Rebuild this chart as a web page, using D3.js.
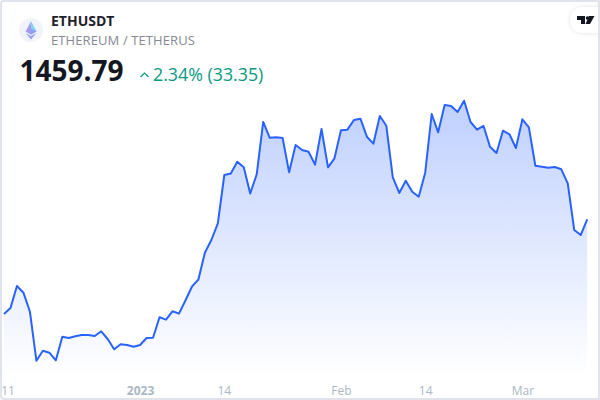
<!DOCTYPE html>
<html><head><meta charset="utf-8">
<script src="https://cdnjs.cloudflare.com/ajax/libs/d3/7.8.5/d3.min.js"></script>
<style>html,body{margin:0;padding:0;background:#fff}svg{display:block;font-family:"Open Sans",sans-serif}</style>
</head><body><svg id="c" width="600" height="400"></svg>
<script>
const startDate = "2022-12-11";
const closes = [1259.0,1271.8,1318.4,1304.2,1263.9,1160.0,1181.2,1177.0,1160.9,1210.9,
1208.2,1211.8,1214.5,1214.5,1212.4,1222.4,1206.0,1184.2,1194.8,1193.3,
1189.7,1193.3,1208.2,1208.8,1252.0,1247.0,1264.8,1259.7,1287.7,1316.9,
1332.2,1389.0,1415.9,1451.3,1553.7,1556.9,1581.7,1570.0,1514.5,1555.2,
1666.1,1632.8,1633.6,1632.2,1559.4,1617.3,1606.7,1603.1,1575.6,1651.2,
1570.0,1589.1,1648.5,1649.8,1670.3,1673.1,1634.9,1620.1,1678.8,1658.2,
1548.8,1515.6,1541.6,1518.3,1507.7,1558.6,1683.0,1644.2,1702.1,1700.0,
1687.3,1711.2,1666.1,1649.8,1657.6,1613.7,1600.4,1647.6,1640.0,1611.0,
1671.8,1654.8,1573.4,1571.3,1569.2,1570.7,1565.8,1536.1,1437.1,1426.44,1459.79];
const tickDates = ["2022-12-11","2023-01-01","2023-01-14","2023-02-01","2023-02-14","2023-03-01"];
const tickLabels = ["11","2023","14","Feb","14","Mar"];
const symbol = "ETHUSDT";
const symbolName = "ETHEREUM / TETHERUS";
const lastPrice = "1459.79";
const changeText = "2.34% (33.35)";

const parse = d3.utcParse("%Y-%m-%d");
const t0 = parse(startDate);
const dates = closes.map((_, i) => d3.utcDay.offset(t0, i));
const svg = d3.select("#c");
const x = d3.scaleUtc().domain([t0, dates[dates.length-1]]).range([4, 587.2]);
const y = d3.scaleLinear().domain([1459.79-150*2.12, 1459.79+119.3*2.12]).range([369.3, 100]);

const defs = svg.append("defs");
const g = defs.append("linearGradient").attr("id","fill").attr("gradientUnits","userSpaceOnUse")
  .attr("x1",0).attr("x2",0).attr("y1",100).attr("y2",376);
g.append("stop").attr("offset",0).attr("stop-color","#2962ff").attr("stop-opacity",0.3);
g.append("stop").attr("offset",1).attr("stop-color","#2962ff").attr("stop-opacity",0);
const sh = defs.append("filter").attr("id","sh").attr("x","-30%").attr("y","-30%").attr("width","160%").attr("height","160%");
sh.append("feDropShadow").attr("dx",0).attr("dy",0).attr("stdDeviation",2).attr("flood-color","#000").attr("flood-opacity",0.12);
const lg = defs.append("linearGradient").attr("id","eth").attr("x1",0).attr("x2",1).attr("y1",0).attr("y2",1);
lg.append("stop").attr("offset",0).attr("stop-color","#c09cf2");
lg.append("stop").attr("offset",1).attr("stop-color","#7f9cf5");

const idx = closes.map((_, i) => i);
const area = d3.area().x(i => x(dates[i])).y0(376).y1(i => y(closes[i]));
const line = d3.line().x(i => x(dates[i])).y(i => y(closes[i]));
svg.append("path").attr("d",area(idx)).attr("fill","url(#fill)");
svg.append("path").attr("d",line(idx)).attr("fill","none").attr("stroke","#2962ff").attr("stroke-width",2).attr("stroke-linejoin","round");

// card border
svg.append("rect").attr("x",1).attr("y",1).attr("width",598).attr("height",398).attr("rx",3)
  .attr("fill","none").attr("stroke","#e0e3eb").attr("stroke-width",2);

// time axis
const ax = d3.axisBottom(x).tickValues(tickDates.map(parse)).tickSize(0).tickPadding(0)
  .tickFormat((d,i) => tickLabels[i]);
const axG = svg.append("g").attr("transform","translate(0,390.5)").call(ax);
axG.select(".domain").remove();
axG.selectAll("text").attr("y",0).attr("dy",".35em").attr("fill","#a9b8c4")
  .attr("font-family",'"Open Sans",sans-serif').attr("font-size",12)
  .attr("font-weight",(d,i) => tickLabels[i]==="2023" ? 700 : 400)
  .attr("dx",(d,i) => i===0 ? 3.5 : (i===2 ? -0.5 : 0));

// header
svg.append("circle").attr("cx",31).attr("cy",30).attr("r",12).attr("fill","#f0f3fa");
const eth = svg.append("g").attr("transform","translate(31,30.5)");
eth.append("path").attr("d","M0,-9L5.5,1L0,4.2L-5.5,1Z").attr("fill","url(#eth)");
eth.append("path").attr("d","M0,-9L5.5,1L0,-2Z").attr("fill","#7fdcea");
eth.append("path").attr("d","M-5.5,2.4L0,5.6L5.5,2.4L0,9Z").attr("fill","#9aa0f2");

svg.append("text").attr("x",51).attr("y",26).attr("font-size",14).attr("font-weight",700).attr("fill","#1e222d").text(symbol);
svg.append("text").attr("x",51).attr("y",45).attr("font-size",13).attr("letter-spacing",0.1).attr("fill","#868993").text(symbolName);
svg.append("text").attr("x",19.5).attr("y",81).attr("font-size",28).attr("font-weight",700).attr("fill","#131722").text(lastPrice);
svg.append("path").attr("d","M140.5,77L144.5,73L148.5,77").attr("fill","none").attr("stroke","#089981").attr("stroke-width",1.2);
svg.append("text").attr("x",153).attr("y",81).attr("font-size",17.8).attr("fill","#089981").text(changeText);

// attribution badge
svg.append("rect").attr("x",570).attr("y",7).attr("width",42).attr("height",26).attr("rx",13).attr("fill","#fff").attr("filter","url(#sh)");
svg.append("path").attr("d","M577,16H585V24H581V20H577Z M589,16H594.5L590,24H585.5Z").attr("fill","#131722");
svg.append("circle").attr("cx",587.5).attr("cy",18).attr("r",1.8).attr("fill","#131722");
svg.append("rect").attr("x",598).attr("y",0).attr("width",2).attr("height",400).attr("fill","#e0e3eb");
</script></body></html>
